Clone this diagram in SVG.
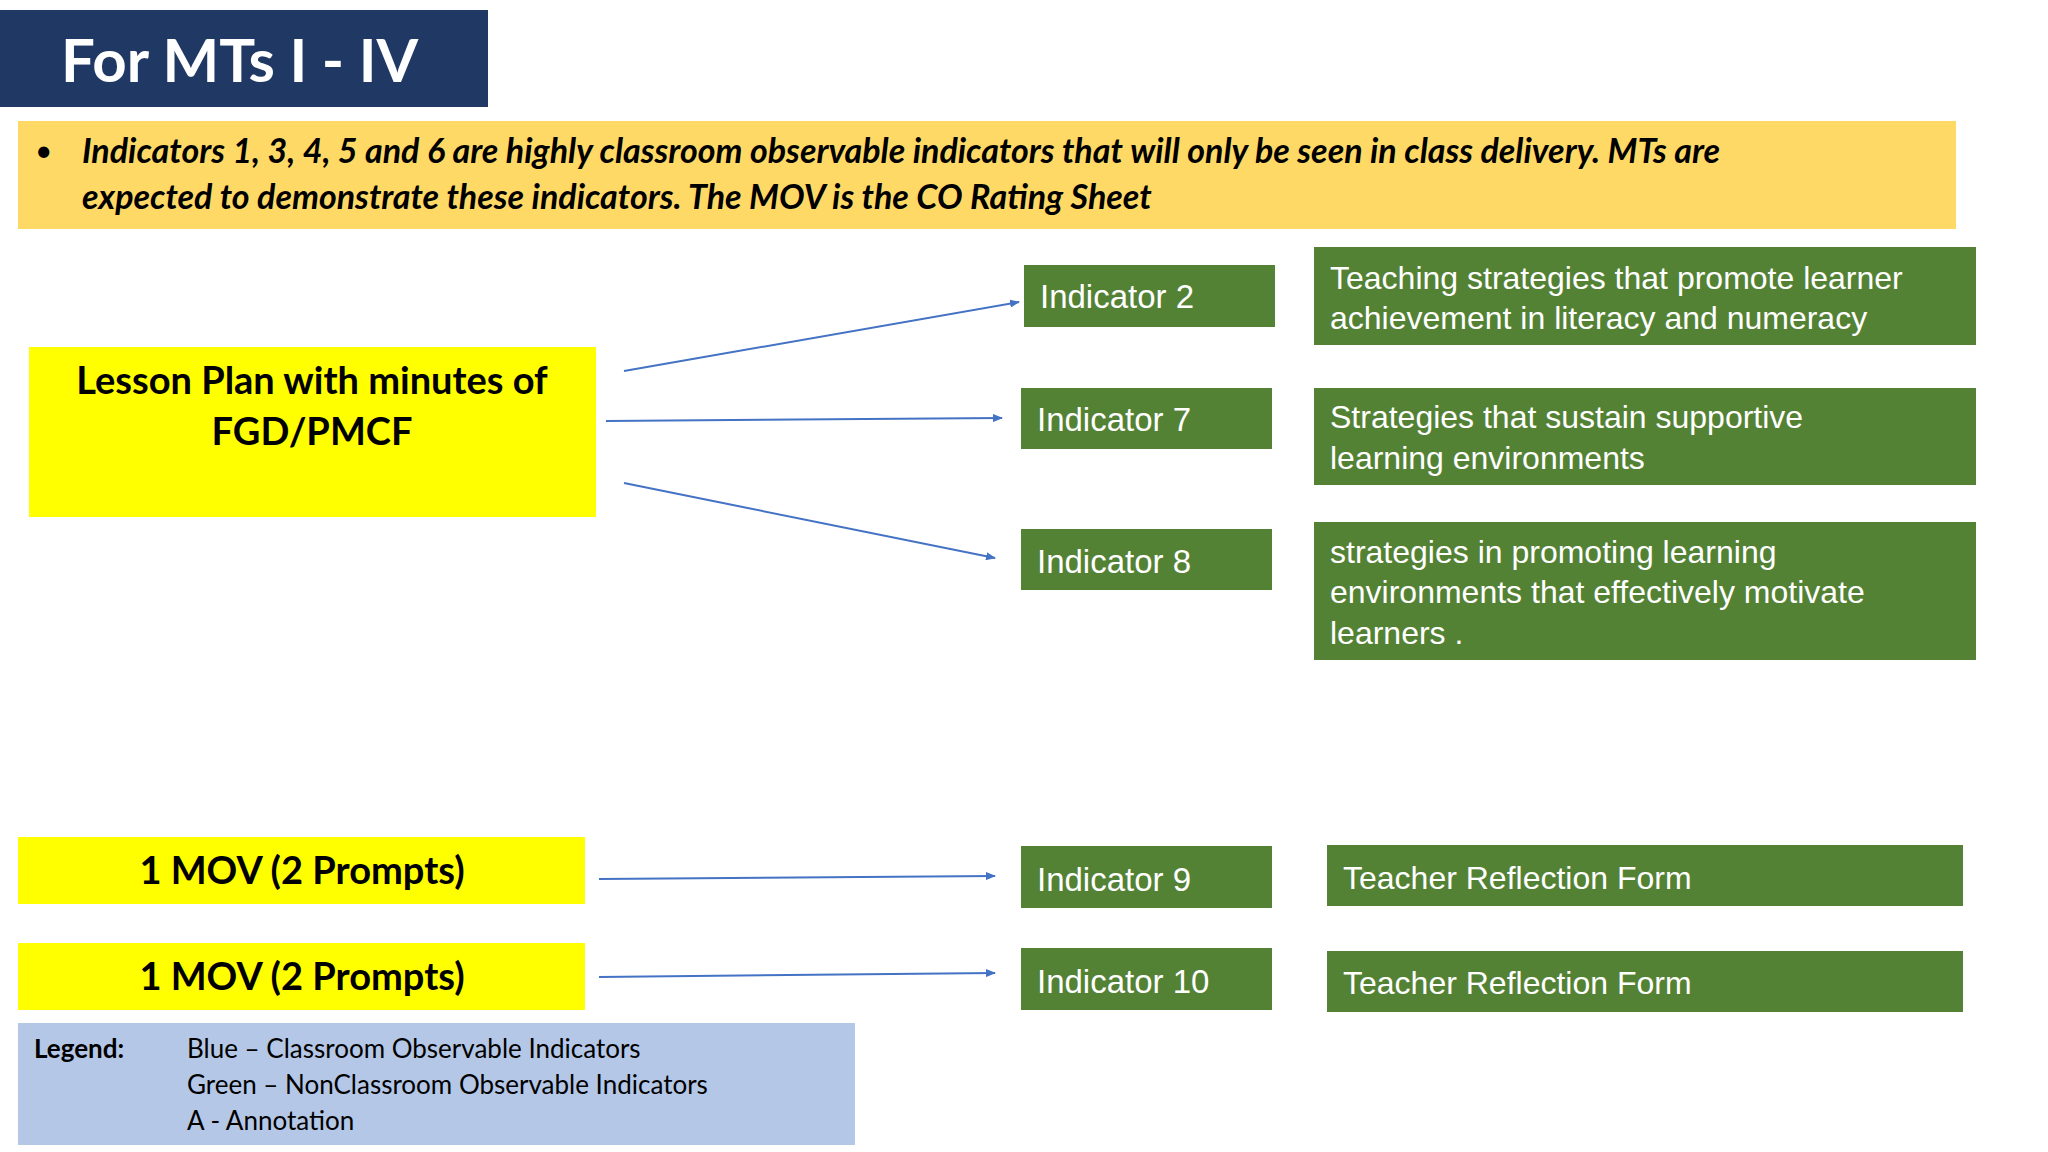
<svg xmlns="http://www.w3.org/2000/svg" width="2048" height="1152" viewBox="0 0 2048 1152">
<style>
.cal{font-family:Lato,"Open Sans",sans-serif}
.ind{fill:#548235}
.it{font-family:"Liberation Sans",Arial,sans-serif;font-size:33px;fill:#fff}
.dt{font-family:"Liberation Sans",Arial,sans-serif;font-size:32px;fill:#fff}
.yb{fill:#FFFF00}
.yt{font-family:Lato,"Open Sans",sans-serif;font-weight:bold;font-size:38px;fill:#000;text-anchor:middle}
.ar{stroke:#4472C4;stroke-width:2;fill:none;marker-end:url(#ah)}
.lg{font-family:Lato,"Open Sans",sans-serif;font-size:26px;fill:#000}
</style>
<defs><marker id="ah" markerWidth="10" markerHeight="8" refX="9" refY="4" orient="auto" markerUnits="userSpaceOnUse"><path d="M0,0 L10,4 L0,8 Z" fill="#4472C4"/></marker></defs>
<rect width="2048" height="1152" fill="#fff"/>
<g id="title"><rect x="0" y="10" width="488" height="97" fill="#1F3864"/><text x="61" y="82" class="cal" font-size="60" font-weight="bold" fill="#fff">For MTs I - IV</text></g>
<g id="banner"><rect x="18" y="121" width="1938" height="108" fill="#FFD966"/>
<text x="35" y="161" class="cal" font-size="30" fill="#000">•</text>
<text class="cal" font-size="34" font-weight="bold" font-style="italic" fill="#000"><tspan x="82" y="163">Indicators 1, 3, 4, 5 and 6 are highly classroom observable indicators that will only be seen in class delivery. MTs are</tspan><tspan x="82" y="209">expected to demonstrate these indicators. The MOV is the CO Rating Sheet</tspan></text></g>
<g id="lesson"><rect class="yb" x="29" y="347" width="567" height="170"/><text class="yt"><tspan x="312" y="394">Lesson Plan with minutes of</tspan><tspan x="312" y="445">FGD/PMCF</tspan></text></g>
<g id="ind2"><rect class="ind" x="1024" y="265" width="251" height="62"/><text class="it" x="1040" y="308">Indicator 2</text></g>
<g id="ind7"><rect class="ind" x="1021" y="388" width="251" height="61"/><text class="it" x="1037" y="431">Indicator 7</text></g>
<g id="ind8"><rect class="ind" x="1021" y="529" width="251" height="61"/><text class="it" x="1037" y="573">Indicator 8</text></g>
<g id="ind9"><rect class="ind" x="1021" y="846" width="251" height="62"/><text class="it" x="1037" y="891">Indicator 9</text></g>
<g id="ind10"><rect class="ind" x="1021" y="948" width="251" height="62"/><text class="it" x="1037" y="993">Indicator 10</text></g>
<g id="d1"><rect class="ind" x="1314" y="247" width="662" height="98"/><text class="dt"><tspan x="1330" y="289">Teaching strategies that promote learner</tspan><tspan x="1330" y="329">achievement in literacy and numeracy</tspan></text></g>
<g id="d2"><rect class="ind" x="1314" y="388" width="662" height="97"/><text class="dt"><tspan x="1330" y="428">Strategies that sustain supportive</tspan><tspan x="1330" y="469">learning environments</tspan></text></g>
<g id="d3"><rect class="ind" x="1314" y="522" width="662" height="138"/><text class="dt"><tspan x="1330" y="563">strategies in promoting learning</tspan><tspan x="1330" y="603">environments that effectively motivate</tspan><tspan x="1330" y="644">learners .</tspan></text></g>
<g id="d4"><rect class="ind" x="1327" y="845" width="636" height="61"/><text class="dt" font-size="33" x="1343" y="889">Teacher Reflection Form</text></g>
<g id="d5"><rect class="ind" x="1327" y="951" width="636" height="61"/><text class="dt" font-size="33" x="1343" y="994">Teacher Reflection Form</text></g>
<g id="mov1"><rect class="yb" x="18" y="837" width="567" height="67"/><text class="yt" x="302" y="884">1 MOV (2 Prompts)</text></g>
<g id="mov2"><rect class="yb" x="18" y="943" width="567" height="67"/><text class="yt" x="302" y="990">1 MOV (2 Prompts)</text></g>
<g id="legend"><rect x="18" y="1023" width="837" height="122" fill="#B4C7E7"/>
<text class="lg" font-weight="bold" x="34" y="1058">Legend:</text>
<text class="lg"><tspan x="187" y="1058">Blue – Classroom Observable Indicators</tspan><tspan x="187" y="1094">Green – NonClassroom Observable Indicators</tspan><tspan x="187" y="1130">A - Annotation</tspan></text></g>
<g id="connectors">
<line class="ar" x1="624" y1="371" x2="1019" y2="302"/>
<line class="ar" x1="606" y1="421" x2="1002" y2="418"/>
<line class="ar" x1="624" y1="483" x2="995" y2="558"/>
<line class="ar" x1="599" y1="879" x2="995" y2="876"/>
<line class="ar" x1="599" y1="977" x2="995" y2="973"/>
</g>
</svg>
